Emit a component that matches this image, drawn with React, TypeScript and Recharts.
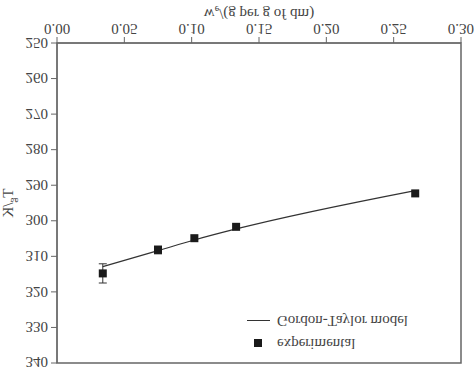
import React from 'react';
import {
  ComposedChart,
  Scatter,
  Line,
  XAxis,
  YAxis,
  ErrorBar,
  ReferenceArea,
} from 'recharts';

// experimental points (water content, Tg, error)
const waterContent = [0.034, 0.075, 0.102, 0.133, 0.266];
const tgMeasured = [314.8, 308.2, 304.9, 301.7, 292.3];
const tgError = [2.7, 1.1, 0, 0, 0];

// Gordon-Taylor fit
const modelWater = [0.034, 0.075, 0.102, 0.133, 0.266];
const modelTg = [312.9, 308.4, 305.4, 302.3, 291.5];

const xTicks = [0, 0.05, 0.1, 0.15, 0.2, 0.25, 0.3];
const yTicks = [250, 260, 270, 280, 290, 300, 310, 320, 330, 340];

const FONT = "'Liberation Serif', 'Times New Roman', serif";
const AXIS = '#666';
const TEXT = '#444';

const experimental = waterContent.map((x, i) => ({ x, y: tgMeasured[i], err: tgError[i] }));
const model = modelWater.map((x, i) => ({ x, y: modelTg[i] }));

const SquareDot = (props: any) => {
  const { cx, cy } = props;
  if (cx == null || cy == null) return null;
  return <rect x={cx - 4} y={cy - 4} width={8} height={8} fill="#1a1a1a" />;
};

const XLabel = (props: any) => {
  const vb = props.viewBox;
  return (
    <text x={vb.x + vb.width / 2} y={362} textAnchor="middle" fontFamily={FONT} fontSize={15} fill={TEXT}>
      w<tspan fontSize={10} dy={3}>e</tspan>
      <tspan dy={-3}>/(g per g of dm)</tspan>
    </text>
  );
};

const YLabel = () => (
  <text
    x={13}
    y={168}
    transform="rotate(-90 13 168)"
    textAnchor="middle"
    fontFamily={FONT}
    fontSize={15}
    fill={TEXT}
  >
    T<tspan fontSize={10} dy={3}>g</tspan>
    <tspan dy={-3}>/K</tspan>
  </text>
);

const LegendBox = () => (
  <div
    style={{
      position: 'absolute',
      left: 242,
      top: 16,
      fontFamily: FONT,
      fontSize: 15,
      color: TEXT,
      lineHeight: '23px',
    }}
  >
    <div style={{ display: 'flex', alignItems: 'center', height: 23 }}>
      <div style={{ width: 32, display: 'flex', justifyContent: 'center' }}>
        <div style={{ width: 8, height: 8, background: '#1a1a1a' }} />
      </div>
      <span style={{ marginLeft: 3 }}>experimental</span>
    </div>
    <div style={{ display: 'flex', alignItems: 'center', height: 23 }}>
      <div style={{ width: 32, display: 'flex', justifyContent: 'center' }}>
        <div style={{ width: 23, height: 1, background: '#333' }} />
      </div>
      <span style={{ marginLeft: 3 }}>Gordon-Taylor model</span>
    </div>
  </div>
);

export default function App() {
  return (
    <div
      style={{
        position: 'absolute',
        left: 0,
        top: 0,
        width: 474,
        height: 371,
        background: '#fff',
        transform: 'scaleY(-1)',
      }}
    >
      <ComposedChart width={474} height={371} margin={{ top: 8, right: 13, bottom: 0, left: 0 }}>
        <ReferenceArea x1={0} x2={0.3} y1={250} y2={340} fill="none" stroke={AXIS} strokeWidth={1.5} />
        <XAxis
          type="number"
          dataKey="x"
          domain={[0, 0.3]}
          ticks={xTicks}
          tickFormatter={(v) => v.toFixed(2)}
          height={43}
          tickSize={6}
          stroke={AXIS}
          tick={{ fontFamily: FONT, fontSize: 15, fill: TEXT }}
          label={<XLabel />}
          allowDataOverflow
        />
        <YAxis
          type="number"
          dataKey="y"
          domain={[250, 340]}
          ticks={yTicks}
          width={57}
          tickSize={6}
          tickMargin={3}
          stroke={AXIS}
          tick={{ fontFamily: FONT, fontSize: 15, fill: TEXT }}
          label={<YLabel />}
          allowDataOverflow
        />
        <Line
          data={model}
          dataKey="y"
          type="monotone"
          stroke="#333"
          strokeWidth={1.2}
          dot={false}
          isAnimationActive={false}
        />
        <Scatter data={experimental} dataKey="y" shape={<SquareDot />} isAnimationActive={false}>
          <ErrorBar dataKey="err" direction="y" width={4} stroke="#333" strokeWidth={1} />
        </Scatter>
      </ComposedChart>
      <LegendBox />
    </div>
  );
}
